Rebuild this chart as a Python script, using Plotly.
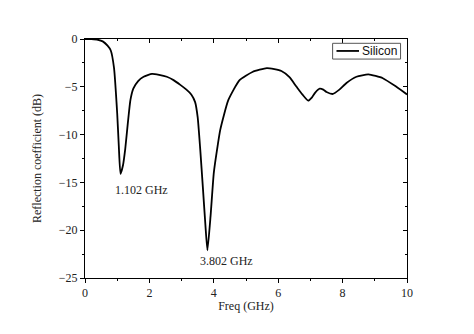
import plotly.graph_objects as go

freq = [0, 0.2, 0.4, 0.55, 0.7, 0.8, 0.9, 1.0, 1.05, 1.102, 1.18, 1.25, 1.33, 1.41, 1.5,
        1.65, 1.82, 2.08, 2.3, 2.54, 2.75, 2.96, 3.15, 3.3, 3.42, 3.5, 3.58, 3.66, 3.74,
        3.802, 3.9, 4.0, 4.1, 4.2, 4.45, 4.8, 5.2, 5.65, 6.1, 6.35, 6.57, 6.75, 6.93,
        7.05, 7.15, 7.29, 7.4, 7.5, 7.7, 7.9, 8.12, 8.43, 8.8, 9.25, 9.67, 10]
refl_db = [0, -0.02, -0.08, -0.25, -0.7, -1.2, -3.0, -7.8, -11.2, -14.1, -13.2, -11.5, -8.8,
           -6.4, -5.2, -4.4, -3.95, -3.65, -3.75, -3.95, -4.3, -4.8, -5.3, -5.8, -6.6, -8.2,
           -11.6, -15.5, -19.5, -22.1, -18.5, -14.0, -11.6, -9.5, -6.4, -4.3, -3.45, -3.05,
           -3.35, -4.0, -5.0, -5.8, -6.45, -6.1, -5.6, -5.2, -5.3, -5.55, -5.75, -5.3, -4.6,
           -3.95, -3.7, -4.1, -5.0, -5.8]

series_name = "Silicon"
peak_freqs = [1.102, 3.802]
peak_labels = ["1.102 GHz", "3.802 GHz"]
peak_vals = [-14.1, -22.1]
label_xshift = [21, 19]
label_yshift = [-7, -2]

serif = "Liberation Serif, Times New Roman, serif"
sans = "Liberation Sans, Arial, sans-serif"
txt = "#222"

fig = go.Figure()
fig.add_trace(go.Scatter(x=freq, y=refl_db, mode="lines", name=series_name, showlegend=False,
                         line=dict(color="black", width=1.8, shape="spline", smoothing=0.5)))
# empty trace so the mirrored (top/right) frame axes get drawn
fig.add_trace(go.Scatter(x=[], y=[], xaxis="x2", yaxis="y2", showlegend=False,
                         hoverinfo="skip"))

for f, lab, v, dx, dy in zip(peak_freqs, peak_labels, peak_vals, label_xshift, label_yshift):
    fig.add_annotation(x=f, y=v, text=lab, showarrow=False, yanchor="top", yshift=dy,
                       xanchor="center", xshift=dx,
                       font=dict(family=serif, size=12, color=txt))

# legend box (drawn manually to match the compact framed legend)
fig.add_shape(type="rect", xref="paper", yref="paper", x0=0.769, x1=0.980, y0=0.916, y1=0.982,
              line=dict(color="#555", width=1), fillcolor="white", layer="above")
fig.add_shape(type="line", xref="paper", yref="paper", x0=0.781, x1=0.851, y0=0.950, y1=0.950,
              line=dict(color="black", width=1.8), layer="above")
fig.add_annotation(xref="paper", yref="paper", x=0.855, y=0.950, text=series_name,
                   showarrow=False, xanchor="left", yanchor="middle",
                   font=dict(family=sans, size=12, color="#111"))

axis_common = dict(showline=True, linecolor="black", linewidth=1, showgrid=False,
                   zeroline=False, ticks="outside", ticklen=4, tickcolor="black",
                   tickfont=dict(family=serif, size=12, color=txt))
mirror_common = dict(showline=True, linecolor="black", linewidth=1, showgrid=False,
                     zeroline=False, ticks="inside", ticklen=4, tickcolor="black",
                     showticklabels=False)

fig.update_layout(
    width=474, height=334,
    margin=dict(l=85, r=67, t=39, b=56),
    paper_bgcolor="white", plot_bgcolor="white",
    showlegend=False,
    xaxis=dict(range=[0, 10], dtick=2,
               minor=dict(dtick=1, ticks="outside", ticklen=2, tickcolor="black"),
               title=dict(text="Freq (GHz)", font=dict(family=serif, size=12, color=txt),
                          standoff=2),
               **axis_common),
    yaxis=dict(range=[-25, 0], dtick=5,
               minor=dict(dtick=2.5, ticks="outside", ticklen=2, tickcolor="black"),
               title=dict(text="Reflection coefficient (dB)",
                          font=dict(family=serif, size=12, color=txt), standoff=14),
               **axis_common),
    xaxis2=dict(range=[0, 10], dtick=2, overlaying="x", anchor="y2", side="top",
                minor=dict(dtick=1, ticks="inside", ticklen=2, tickcolor="black"),
                **mirror_common),
    yaxis2=dict(range=[-25, 0], dtick=5, overlaying="y", anchor="x2", side="right",
                minor=dict(dtick=2.5, ticks="inside", ticklen=2, tickcolor="black"),
                **mirror_common),
)

fig.write_html("out.html")
